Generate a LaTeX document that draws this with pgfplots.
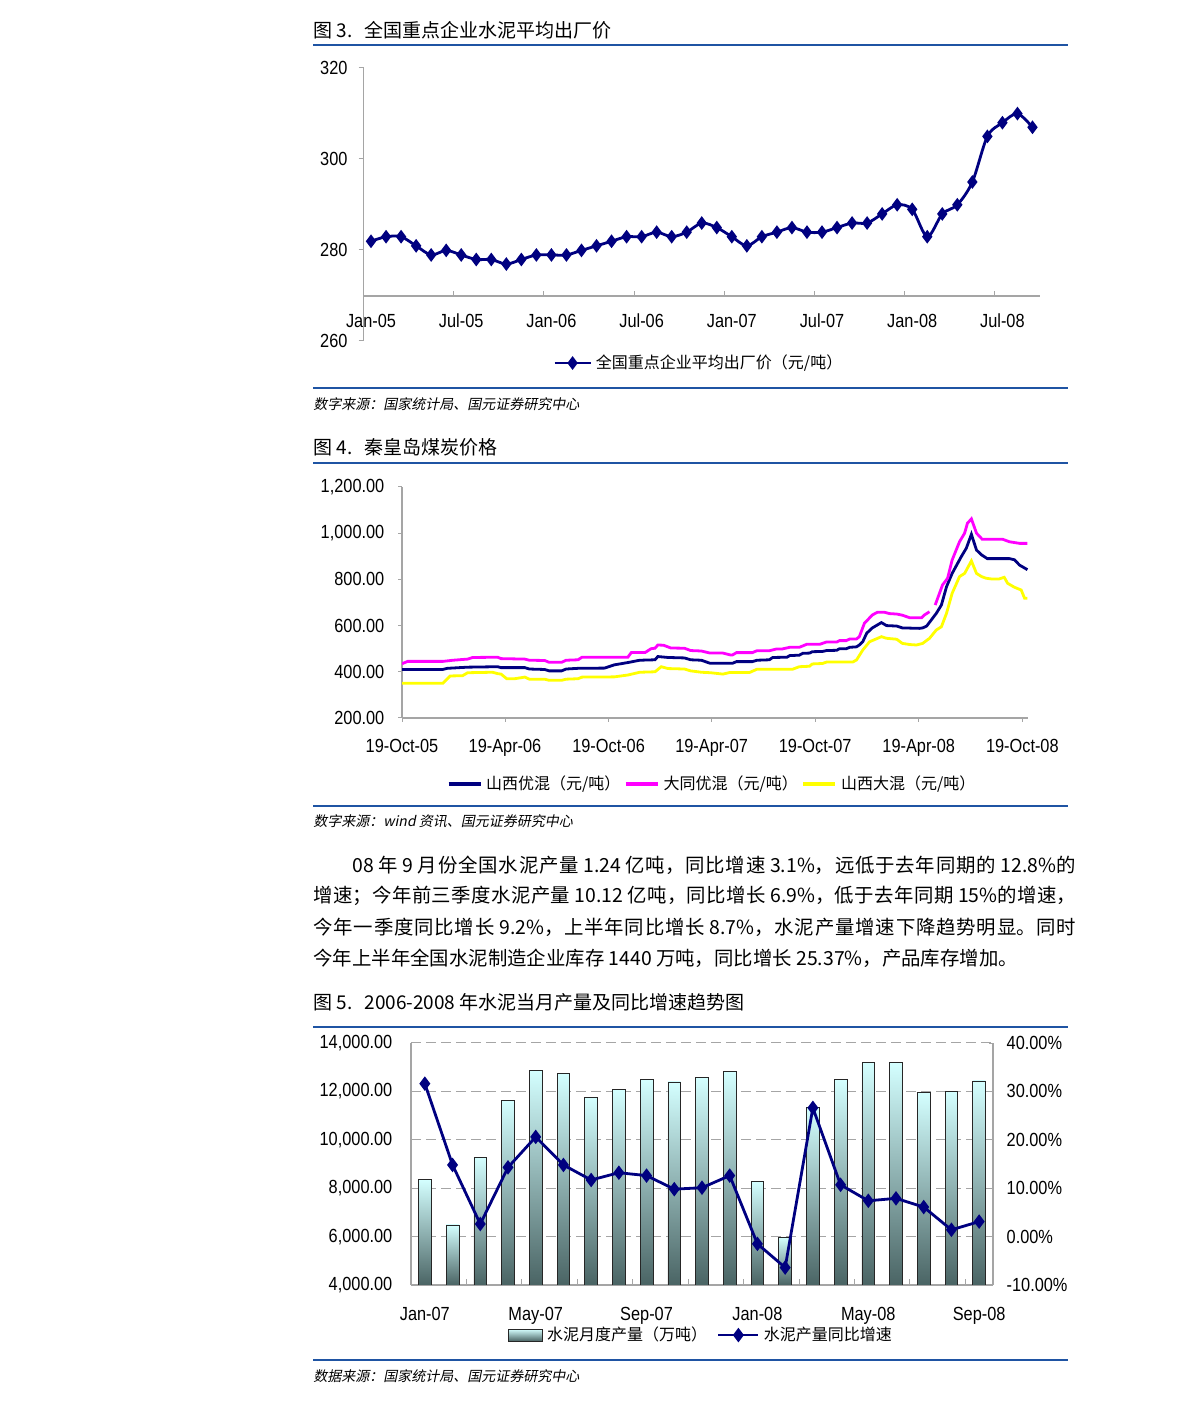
\documentclass[border=0pt]{standalone}
\usepackage{fontspec}
\usepackage{pgfplots}
\pgfplotsset{compat=1.18}
\setmainfont{Liberation Sans}
\newfontfamily\tickfont{Liberation Sans}[FakeStretch=0.86]
\newfontfamily\cjk{Noto Sans CJK SC}
\newfontfamily\cjkit{Noto Sans CJK SC}[FakeSlant=0.2]
\definecolor{navy}{RGB}{0,0,128}
\definecolor{rulec}{RGB}{31,84,163}
\definecolor{axgray}{RGB}{165,165,165}
\definecolor{bartop}{RGB}{212,255,255}
\definecolor{barbot}{RGB}{74,100,100}
\definecolor{mag}{RGB}{255,0,255}
\definecolor{yel}{RGB}{255,255,0}
\newcommand\tf{\tickfont\fontsize{9.5}{11}\selectfont}
\newcommand\lf{\cjk\fontsize{8}{10}\selectfont}
\newcommand\ttlf{\cjk\fontsize{9.5}{12}\selectfont}
\newcommand\capfont{\cjkit\fontsize{7}{9}\selectfont}
\newcommand\bodyf{\cjk\fontsize{9.7}{15.5}\selectfont}
\XeTeXlinebreaklocale "zh"
\XeTeXlinebreakskip=0pt plus 3pt minus 0.2pt
\pgfplotsset{every axis/.append style={/pgf/number format/assume math mode=true,
  scale only axis, anchor=south west, tick label style={font=\tf},
  axis line style={-, draw=axgray, line width=0.6pt},
  tick style={draw=axgray, line width=0.5pt}},
  noarrows/.style={x axis line style={-}, y axis line style={-}},
  numfmt/.style={/pgf/number format/fixed, /pgf/number format/fixed zerofill,
  /pgf/number format/precision=2, /pgf/number format/1000 sep={,}},
  cbar/.style={ybar, bar width=6.35pt, draw=black!85, line width=0.4pt, top color=bartop, bottom color=barbot}}
\begin{document}
\begin{tikzpicture}
\path (0,0) rectangle (595.5pt,702pt);
% ---------- headings, rules, captions ----------
\node[anchor=west, inner sep=0, font=\ttlf] at (156.5pt,687pt) {图 3.\hspace{6pt}全国重点企业水泥平均出厂价};
\draw[rulec, line width=1.2pt] (156.5pt,679.5pt) -- (534pt,679.5pt);
\draw[rulec, line width=1.2pt] (156.5pt,508pt) -- (534pt,508pt);
\node[anchor=west, inner sep=0, font=\capfont] at (156.5pt,500pt) {数字来源：国家统计局、国元证券研究中心};
\node[anchor=west, inner sep=0, font=\ttlf] at (156.5pt,478.5pt) {图 4.\hspace{6pt}秦皇岛煤炭价格};
\draw[rulec, line width=1.2pt] (156.5pt,470.5pt) -- (534pt,470.5pt);
\draw[rulec, line width=1.2pt] (156.5pt,299pt) -- (534pt,299pt);
\node[anchor=west, inner sep=0, font=\capfont] at (156.5pt,291.5pt) {数字来源：wind 资讯、国元证券研究中心};
\node[anchor=west, inner sep=0, text width=381.5pt, align=justify, font=\bodyf] at (156.5pt,269.5pt) {\hspace*{19.5pt}08 年 9 月份全国水泥产量 1.24 亿吨，同比增速 3.1\%，远低于去年同期的 12.8\%的\parfillskip=0pt\par};
\node[anchor=west, inner sep=0, text width=381.5pt, align=justify, font=\bodyf] at (156.5pt,254pt) {增速；今年前三季度水泥产量 10.12 亿吨，同比增长 6.9\%，低于去年同期 15\%的增速，\parfillskip=0pt\par};
\node[anchor=west, inner sep=0, text width=381.5pt, align=justify, font=\bodyf] at (156.5pt,238.5pt) {今年一季度同比增长 9.2\%，上半年同比增长 8.7\%，水泥产量增速下降趋势明显。同时\parfillskip=0pt\par};
\node[anchor=west, inner sep=0, font=\bodyf] at (156.5pt,223pt) {今年上半年全国水泥制造企业库存 1440 万吨，同比增长 25.37\%，产品库存增加。};
\node[anchor=west, inner sep=0, font=\ttlf] at (156.5pt,201pt) {图 5.\hspace{6pt}2006-2008 年水泥当月产量及同比增速趋势图};
\draw[rulec, line width=1.2pt] (156.5pt,188.5pt) -- (534pt,188.5pt);
\draw[rulec, line width=1.2pt] (156.5pt,22pt) -- (534pt,22pt);
\node[anchor=west, inner sep=0, font=\capfont] at (156.5pt,14pt) {数据来源：国家统计局、国元证券研究中心};
% ---------- chart 1 ----------
\begin{axis}[at={(181.75pt,531.5pt)}, width=338.25pt, height=136.5pt,
  xmin=0, xmax=1, ymin=260, ymax=320, axis x line=none, axis y line=left, noarrows,
  ytick={260,280,300,320}, xtick=\empty, tick align=outside, major tick length=2.5pt,
  yticklabel style={xshift=-2pt}]
\end{axis}
\begin{axis}[at={(181.75pt,554pt)}, width=338.25pt, height=114pt,
  xmin=-0.5, xmax=44.5, ymin=270, ymax=320, axis y line=none, axis x line=bottom, noarrows,
  ytick=\empty, xtick={0,6,...,42},
  xticklabels={Jan-05,Jul-05,Jan-06,Jul-06,Jan-07,Jul-07,Jan-08,Jul-08},
  minor xtick={5.5,11.5,...,41.5}, tick align=inside, major tick length=0pt, minor tick length=2.5pt,
  xticklabel style={yshift=-5.5pt}, clip=false,
  legend style={at={(0.497,-0.294)}, anchor=center, draw=none, fill=none, font=\lf, inner sep=0pt},
  legend image code/.code={\draw[#1,mark repeat=2,mark phase=2] plot coordinates {(0pt,0pt) (9pt,0pt) (18pt,0pt)};}]
\addplot[navy, line width=1.4pt, smooth, tension=0.5, mark=diamond*, mark size=2.3pt, mark options={fill=navy}] coordinates {
(0,282)(1,283)(2,283)(3,281)(4,279)(5,280)(6,279)(7,278)(8,278)(9,277)
(10,278)(11,279)(12,279)(13,279)(14,280)(15,281)(16,282)(17,283)(18,283)(19,284)
(20,283)(21,284)(22,286)(23,285)(24,283)(25,281)(26,283)(27,284)(28,285)(29,284)
(30,284)(31,285)(32,286)(33,286)(34,288)(35,290)(36,289)(37,283)(38,288)(39,290)
(40,295)(41,305)(42,308)(43,310)(44,307)};
\addlegendentry{全国重点企业平均出厂价（元/吨）}
\end{axis}
% ---------- chart 2 ----------
\begin{axis}[at={(201pt,343pt)}, width=313pt, height=115.5pt,
  xmin=0, xmax=1106, ymin=200, ymax=1200, axis lines=left, noarrows,
  xtick={0,182,365,547,730,913,1096},
  xticklabels={19-Oct-05,19-Apr-06,19-Oct-06,19-Apr-07,19-Oct-07,19-Apr-08,19-Oct-08},
  ytick={200,400,...,1200},
  yticklabel style={numfmt, xshift=-3.3pt},
  tick align=outside, major tick length=2pt,
  xticklabel style={yshift=-5.3pt},
  unbounded coords=jump,
  legend columns=3,
  legend style={at={(0.497,-0.286)}, anchor=center, draw=none, fill=none, font=\lf, inner sep=0pt,
    /tikz/every even column/.append style={column sep=0pt}},
  legend image code/.code={\draw[#1, line width=1.6pt] (0pt,0pt) -- (16pt,0pt);}]
\addplot[navy, line width=1.4pt] coordinates {
(0,410)(72,410)(80,415)(116,420)(169,422)(175,418)(217,418)(225,412)(252,410)(260,404)
(282,404)(290,412)(311,415)(358,416)(375,430)(399,440)(420,450)(447,452)(452,466)(470,462)
(499,460)(510,452)(529,450)(544,437)(584,437)(591,444)(619,444)(627,450)(649,452)(655,462)
(680,463)(685,470)(702,472)(708,480)(720,481)(725,487)(743,488)(750,492)(768,493)(773,500)
(785,500)(791,506)(803,508)(808,516)(814,530)(821,567)(831,590)(847,613)(856,600)(874,598)
(884,590)(914,588)(920,590)(927,598)(935,624)(944,653)(953,689)(962,768)(972,826)(988,898)
(997,935)(1006,995)(1015,927)(1024,906)(1034,890)(1073,890)(1082,885)(1091,862)(1105,842)};
\addlegendentry{山西优混（元/吨）}
\addplot[mag, line width=1.4pt] coordinates {
(0,435)(10,445)(72,445)(90,450)(116,455)(125,462)(169,463)(175,457)(217,455)(225,450)
(252,449)(260,441)(282,441)(290,450)(311,452)(318,463)(399,463)(405,483)(430,484)(440,500)
(447,502)(452,516)(462,515)(475,503)(499,502)(510,492)(529,490)(544,481)(567,481)(580,473)
(584,473)(591,483)(619,483)(627,491)(649,491)(662,499)(672,499)(685,506)(702,506)(715,519)
(738,519)(750,529)(768,529)(773,535)(785,535)(791,542)(803,542)(808,552)(817,610)(831,646)
(840,658)(852,658)(861,652)(874,650)(884,645)(897,634)(918,634)(923,646)(932,660)(937,nan)
(942,689)(955,776)(964,805)(972,884)(985,963)(994,1000)(999,1043)(1006,1062)(1015,1000)(1025,974)
(1032,974)(1061,974)(1073,963)(1091,956)(1105,956)};
\addlegendentry{大同优混（元/吨）}
\addplot[yel, line width=1.4pt] coordinates {
(0,350)(72,350)(85,382)(107,383)(116,396)(160,398)(169,392)(175,390)(185,370)(199,370)
(217,377)(225,368)(252,368)(260,363)(282,363)(290,368)(311,370)(318,377)(375,378)(399,386)
(420,398)(447,400)(458,422)(470,414)(499,412)(510,404)(529,398)(545,396)(567,390)(579,397)
(614,397)(627,411)(690,411)(702,422)(720,424)(725,434)(743,436)(750,442)(796,442)(803,451)
(814,494)(826,530)(847,552)(856,545)(874,541)(884,523)(897,518)(909,516)(920,523)(932,545)
(944,581)(953,595)(962,653)(972,740)(985,812)(994,826)(1006,880)(1015,826)(1024,812)(1032,805)
(1041,802)(1055,802)(1064,809)(1070,783)(1082,766)(1094,754)(1100,718)(1105,718)};
\addlegendentry{山西大混（元/吨）}
\end{axis}
% ---------- chart 3 ----------
\begin{axis}[at={(205.5pt,59.5pt)}, width=291pt, height=121pt,
  xmin=-0.5, xmax=20.5, ymin=4000, ymax=14000,
  y coord trafo/.code={\pgfmathparse{#1-4000}},
  y coord inv trafo/.code={\pgfmathparse{#1+4000}},
  axis x line=bottom, axis y line=left, noarrows, scaled y ticks=false,
  ytick={4000,6000,...,14000},
  yticklabel style={numfmt, xshift=-5.8pt},
  xtick={0,4,...,20}, xticklabels={Jan-07,May-07,Sep-07,Jan-08,May-08,Sep-08},
  minor xtick={1.5,3.5,...,19.5},
  major x tick style={draw=none}, xticklabel style={yshift=-7.5pt},
  tick align=inside, major tick length=2pt, minor tick length=3pt,
  ymajorgrids, major grid style={dash pattern=on 5pt off 2.5pt, draw=axgray, line width=0.5pt}]
\addplot[cbar] coordinates {(0,8350)};
\addplot[cbar] coordinates {(1,6480)};
\addplot[cbar] coordinates {(2,9280)};
\addplot[cbar] coordinates {(3,11630)};
\addplot[cbar] coordinates {(4,12870)};
\addplot[cbar] coordinates {(5,12760)};
\addplot[cbar] coordinates {(6,11760)};
\addplot[cbar] coordinates {(7,12070)};
\addplot[cbar] coordinates {(8,12500)};
\addplot[cbar] coordinates {(9,12390)};
\addplot[cbar] coordinates {(10,12570)};
\addplot[cbar] coordinates {(11,12820)};
\addplot[cbar] coordinates {(12,8280)};
\addplot[cbar] coordinates {(13,5980)};
\addplot[cbar] coordinates {(14,11320)};
\addplot[cbar] coordinates {(15,12500)};
\addplot[cbar] coordinates {(16,13190)};
\addplot[cbar] coordinates {(17,13190)};
\addplot[cbar] coordinates {(18,11940)};
\addplot[cbar] coordinates {(19,12000)};
\addplot[cbar] coordinates {(20,12430)};
\end{axis}
\begin{axis}[at={(205.5pt,59.5pt)}, width=291pt, height=121pt,
  xmin=-0.5, xmax=20.5, ymin=-10, ymax=40,
  axis x line=none, axis y line=right, noarrows, xtick=\empty,
  ytick={-10,0,...,40},
  yticklabel={\pgfmathprintnumber[fixed,fixed zerofill,precision=2]{\tick}\%},
  yticklabel style={xshift=3.3pt},
  tick align=inside, major tick length=2pt,
  legend columns=2,
  legend style={at={(0.5,-0.207)}, anchor=center, draw=none, fill=none, font=\lf, inner sep=0pt,
    /tikz/every even column/.append style={column sep=3pt}},
  legend image code/.code={\draw[#1,mark repeat=2,mark phase=2] plot coordinates {(0pt,0pt) (10pt,0pt) (20pt,0pt)};}]
\addlegendimage{legend image code/.code={\shade[top color=bartop, bottom color=barbot, draw=black!85, line width=0.4pt] (0pt,-3pt) rectangle (17pt,3pt);}}
\addlegendentry{水泥月度产量（万吨）}
\addplot[navy, line width=1.4pt, mark=diamond*, mark size=2.5pt, mark options={fill=navy}] coordinates {
(0,31.6)(1,14.8)(2,2.6)(3,14.3)(4,20.6)(5,14.8)(6,11.7)(7,13.2)(8,12.6)(9,9.8)
(10,10.1)(11,12.6)(12,-1.5)(13,-6.4)(14,26.6)(15,10.7)(16,7.4)(17,7.9)(18,6.1)(19,1.4)(20,3.1)};
\addlegendentry{水泥产量同比增速}
\end{axis}
\end{tikzpicture}
\end{document}
